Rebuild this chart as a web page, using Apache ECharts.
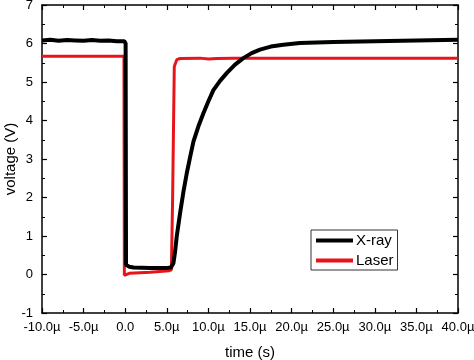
<!DOCTYPE html>
<html><head><meta charset="utf-8">
<script src="https://cdn.jsdelivr.net/npm/echarts@6/dist/echarts.min.js"></script>
<style>html,body{margin:0;padding:0;background:#fff}#c{width:474px;height:360px}</style>
</head><body><div id="c"></div>
<script>
// time in microseconds, voltage in V
const xrayTime = [-10,-9,-8,-7,-6,-5,-4,-3,-2,-1,-0.1,0.05,0.1,0.5,1,3,5,5.5,5.8,6.0,6.2,6.6,7.0,7.4,7.8,8.2,8.8,9.4,10.0,10.6,11.4,12.2,13.2,14.2,15.2,16.2,17.5,19,21,25,30,35,40];
const xrayVolt = [6.08,6.1,6.07,6.09,6.08,6.07,6.09,6.07,6.08,6.06,6.06,6.0,0.25,0.2,0.18,0.17,0.17,0.18,0.3,0.6,1.0,1.6,2.15,2.63,3.05,3.45,3.85,4.19,4.5,4.79,5.03,5.23,5.45,5.62,5.75,5.84,5.92,5.97,6.01,6.04,6.06,6.08,6.1];
const laserTime = [-10,-0.15,-0.1,0.5,3,5.3,5.55,5.7,5.9,6.2,6.6,9,10,11,13,40];
const laserVolt = [5.67,5.67,-0.02,0.03,0.06,0.1,0.12,2.0,5.4,5.58,5.61,5.62,5.6,5.61,5.62,5.62];
const seriesNames = ['X-ray','Laser'];
const xTicks = {min:-10,max:40,interval:5};
const yTicks = {min:-1,max:7,interval:1};

const pair = (t,v)=>t.map((x,i)=>[x,v[i]]);
const font = 'Liberation Sans, Arial, sans-serif';
const xFmt = v => Math.abs(v)<1e-9 ? '0.0' : v.toFixed(1)+'µ';
const chart = echarts.init(document.getElementById('c'));
const axisCommon = {
  axisLine:{show:true,onZero:false,lineStyle:{color:'#000',width:1.5}},
  axisTick:{show:true,inside:true,length:5,lineStyle:{color:'#000',width:1.2}},
  minorTick:{show:true,splitNumber:2,length:3,lineStyle:{color:'#000',width:1}},
  splitLine:{show:false}
};
chart.setOption({
  animation:false,
  grid:{left:42,right:16,top:5,bottom:47,containLabel:false,outerBoundsMode:'none'},
  legend:{
    data:seriesNames, orient:'vertical', left:311, top:230,
    icon:'rect', itemWidth:37, itemHeight:4, itemGap:5,
    borderColor:'#333', borderWidth:1, padding:[3,4,2,5],
    textStyle:{fontFamily:font,fontSize:15,color:'#000',padding:[0,0,0,-2]}
  },
  xAxis:[
    Object.assign({type:'value',min:xTicks.min,max:xTicks.max,interval:xTicks.interval,
      name:'time (s)',nameLocation:'middle',nameGap:32,nameMoveOverlap:false,
      nameTextStyle:{fontFamily:font,fontSize:15,color:'#000'},
      axisLabel:{formatter:xFmt,fontFamily:font,fontSize:13,color:'#000',margin:8}},axisCommon),
    Object.assign({type:'value',position:'top',min:xTicks.min,max:xTicks.max,interval:xTicks.interval,
      axisLabel:{show:false}},axisCommon)
  ],
  yAxis:[
    Object.assign({type:'value',min:yTicks.min,max:yTicks.max,interval:yTicks.interval,
      name:'voltage (V)',nameLocation:'middle',nameGap:24,nameMoveOverlap:false,
      nameTextStyle:{fontFamily:font,fontSize:15,color:'#000'},
      axisLabel:{fontFamily:font,fontSize:13,color:'#000',margin:9}},axisCommon),
    Object.assign({type:'value',position:'right',min:yTicks.min,max:yTicks.max,interval:yTicks.interval,
      axisLabel:{show:false}},axisCommon)
  ],
  series:[
    {name:seriesNames[1],type:'line',data:pair(laserTime,laserVolt),showSymbol:false,
      lineStyle:{color:'#e8141b',width:3},itemStyle:{color:'#e8141b'},z:2},
    {name:seriesNames[0],type:'line',data:pair(xrayTime,xrayVolt),showSymbol:false,
      lineStyle:{color:'#000',width:4},itemStyle:{color:'#000'},z:3}
  ]
});
</script></body></html>
